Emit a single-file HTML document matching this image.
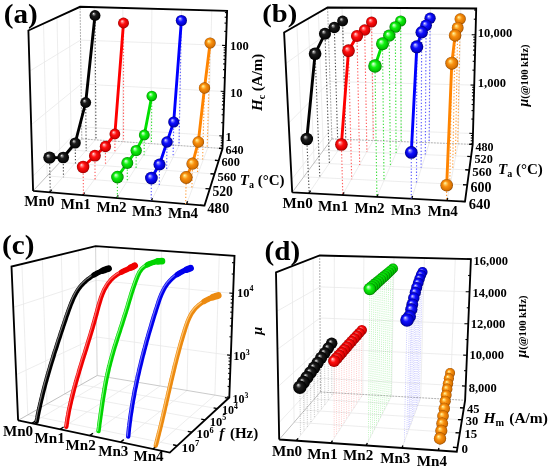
<!DOCTYPE html><html><head><meta charset="utf-8"><style>html,body{margin:0;padding:0;background:#fff;}svg{display:block}</style></head><body>
<svg width="550" height="469" viewBox="0 0 550 469">
<rect width="550" height="469" fill="#fff"/>
<defs><radialGradient id="gk" cx="0.5" cy="0.5" r="0.5" fx="0.36" fy="0.32"><stop offset="0" stop-color="#f4f4f4"/><stop offset="0.16" stop-color="#8a8a8a"/><stop offset="0.38" stop-color="#1e1e1e"/><stop offset="1" stop-color="#000000"/></radialGradient><radialGradient id="gr" cx="0.5" cy="0.5" r="0.5" fx="0.36" fy="0.32"><stop offset="0" stop-color="#fff0f0"/><stop offset="0.18" stop-color="#ff8080"/><stop offset="0.45" stop-color="#ff1010"/><stop offset="0.85" stop-color="#d40000"/><stop offset="1" stop-color="#8a0000"/></radialGradient><radialGradient id="gg" cx="0.5" cy="0.5" r="0.5" fx="0.36" fy="0.32"><stop offset="0" stop-color="#f0fff0"/><stop offset="0.18" stop-color="#90ff90"/><stop offset="0.45" stop-color="#10f010"/><stop offset="0.85" stop-color="#00c000"/><stop offset="1" stop-color="#006e00"/></radialGradient><radialGradient id="gb" cx="0.5" cy="0.5" r="0.5" fx="0.36" fy="0.32"><stop offset="0" stop-color="#f0f0ff"/><stop offset="0.18" stop-color="#8080ff"/><stop offset="0.45" stop-color="#1010ff"/><stop offset="0.85" stop-color="#0000c8"/><stop offset="1" stop-color="#000070"/></radialGradient><radialGradient id="go" cx="0.5" cy="0.5" r="0.5" fx="0.36" fy="0.32"><stop offset="0" stop-color="#fff6c0"/><stop offset="0.18" stop-color="#ffd060"/><stop offset="0.45" stop-color="#f99010"/><stop offset="0.85" stop-color="#d87200"/><stop offset="1" stop-color="#8a4400"/></radialGradient></defs>
<line x1="47.2" y1="175.9" x2="43.5" y2="23.6" stroke="#e8e8e8" stroke-width="0.8" />
<line x1="47.2" y1="175.9" x2="209.8" y2="188.9" stroke="#e8e8e8" stroke-width="0.8" />
<line x1="59.9" y1="162.3" x2="57.0" y2="17.4" stroke="#e8e8e8" stroke-width="0.8" />
<line x1="59.9" y1="162.3" x2="214.5" y2="174.0" stroke="#e8e8e8" stroke-width="0.8" />
<line x1="71.4" y1="150.0" x2="69.1" y2="11.8" stroke="#e8e8e8" stroke-width="0.8" />
<line x1="71.4" y1="150.0" x2="218.7" y2="160.6" stroke="#e8e8e8" stroke-width="0.8" />
<line x1="32.7" y1="176.5" x2="81.6" y2="126.9" stroke="#e8e8e8" stroke-width="0.8" />
<line x1="81.6" y1="126.9" x2="223.0" y2="136.1" stroke="#e8e8e8" stroke-width="0.8" />
<line x1="31.2" y1="124.8" x2="81.1" y2="84.1" stroke="#e8e8e8" stroke-width="0.8" />
<line x1="81.1" y1="84.1" x2="224.4" y2="91.5" stroke="#e8e8e8" stroke-width="0.8" />
<line x1="29.6" y1="71.2" x2="80.5" y2="40.1" stroke="#e8e8e8" stroke-width="0.8" />
<line x1="80.5" y1="40.1" x2="225.9" y2="45.5" stroke="#e8e8e8" stroke-width="0.8" />
<line x1="95.3" y1="139.8" x2="94.2" y2="7.2" stroke="#e8e8e8" stroke-width="0.8" />
<line x1="49.5" y1="192.3" x2="95.3" y2="139.8" stroke="#e8e8e8" stroke-width="0.8" />
<line x1="122.8" y1="141.7" x2="122.8" y2="8.0" stroke="#e8e8e8" stroke-width="0.8" />
<line x1="82.7" y1="195.2" x2="122.8" y2="141.7" stroke="#e8e8e8" stroke-width="0.8" />
<line x1="150.7" y1="143.6" x2="151.9" y2="8.8" stroke="#e8e8e8" stroke-width="0.8" />
<line x1="116.6" y1="198.1" x2="150.7" y2="143.6" stroke="#e8e8e8" stroke-width="0.8" />
<line x1="179.0" y1="145.5" x2="181.6" y2="9.6" stroke="#e8e8e8" stroke-width="0.8" />
<line x1="151.2" y1="201.0" x2="179.0" y2="145.5" stroke="#e8e8e8" stroke-width="0.8" />
<line x1="207.9" y1="147.5" x2="211.8" y2="10.4" stroke="#e8e8e8" stroke-width="0.8" />
<line x1="186.5" y1="204.1" x2="207.9" y2="147.5" stroke="#e8e8e8" stroke-width="0.8" />
<line x1="81.8" y1="138.9" x2="80.1" y2="6.8" stroke="#b0b0b0" stroke-width="1" stroke-dasharray="2 1"/>
<line x1="81.8" y1="138.9" x2="222.5" y2="148.5" stroke="#b0b0b0" stroke-width="1" stroke-dasharray="2 1"/>
<line x1="33.1" y1="190.9" x2="81.8" y2="138.9" stroke="#b0b0b0" stroke-width="0.8" />
<polyline points="33.1,190.9 28.4,30.5 80.1,6.8 227.1,10.8 222.5,148.5 204.5,205.6 33.1,190.9" fill="none" stroke="#000" stroke-width="1.85" stroke-linejoin="miter"/>
<line x1="222.6" y1="145.8" x2="220.6" y2="145.6" stroke="#000" stroke-width="1.1" />
<line x1="222.7" y1="142.9" x2="220.7" y2="142.7" stroke="#000" stroke-width="1.1" />
<line x1="222.8" y1="140.3" x2="220.8" y2="140.2" stroke="#000" stroke-width="1.1" />
<line x1="222.9" y1="138.1" x2="220.8" y2="137.9" stroke="#000" stroke-width="1.1" />
<line x1="223.0" y1="136.1" x2="219.3" y2="135.8" stroke="#000" stroke-width="1.1" />
<line x1="223.4" y1="122.8" x2="221.3" y2="122.6" stroke="#000" stroke-width="1.1" />
<line x1="223.6" y1="114.9" x2="221.6" y2="114.8" stroke="#000" stroke-width="1.1" />
<line x1="223.8" y1="109.4" x2="221.7" y2="109.2" stroke="#000" stroke-width="1.1" />
<line x1="224.0" y1="105.0" x2="221.9" y2="104.9" stroke="#000" stroke-width="1.1" />
<line x1="224.1" y1="101.5" x2="222.0" y2="101.3" stroke="#000" stroke-width="1.1" />
<line x1="224.2" y1="98.4" x2="222.1" y2="98.3" stroke="#000" stroke-width="1.1" />
<line x1="224.3" y1="95.8" x2="222.2" y2="95.7" stroke="#000" stroke-width="1.1" />
<line x1="224.4" y1="93.5" x2="222.3" y2="93.4" stroke="#000" stroke-width="1.1" />
<line x1="224.4" y1="91.5" x2="220.7" y2="91.3" stroke="#000" stroke-width="1.1" />
<line x1="224.9" y1="77.8" x2="222.8" y2="77.7" stroke="#000" stroke-width="1.1" />
<line x1="225.1" y1="69.7" x2="223.0" y2="69.6" stroke="#000" stroke-width="1.1" />
<line x1="225.3" y1="64.0" x2="223.2" y2="63.9" stroke="#000" stroke-width="1.1" />
<line x1="225.5" y1="59.5" x2="223.4" y2="59.4" stroke="#000" stroke-width="1.1" />
<line x1="225.6" y1="55.8" x2="223.5" y2="55.8" stroke="#000" stroke-width="1.1" />
<line x1="225.7" y1="52.7" x2="223.6" y2="52.7" stroke="#000" stroke-width="1.1" />
<line x1="225.8" y1="50.0" x2="223.7" y2="50.0" stroke="#000" stroke-width="1.1" />
<line x1="225.9" y1="47.7" x2="223.7" y2="47.6" stroke="#000" stroke-width="1.1" />
<line x1="225.9" y1="45.5" x2="222.1" y2="45.4" stroke="#000" stroke-width="1.1" />
<line x1="226.4" y1="31.4" x2="224.3" y2="31.4" stroke="#000" stroke-width="1.1" />
<line x1="226.7" y1="23.1" x2="224.5" y2="23.1" stroke="#000" stroke-width="1.1" />
<line x1="226.9" y1="17.2" x2="224.7" y2="17.2" stroke="#000" stroke-width="1.1" />
<line x1="227.0" y1="12.6" x2="224.9" y2="12.6" stroke="#000" stroke-width="1.1" />
<line x1="204.5" y1="205.6" x2="200.0" y2="205.2" stroke="#000" stroke-width="1.4" />
<line x1="209.8" y1="188.9" x2="205.5" y2="188.6" stroke="#000" stroke-width="1.4" />
<line x1="214.5" y1="174.0" x2="210.4" y2="173.7" stroke="#000" stroke-width="1.4" />
<line x1="218.7" y1="160.6" x2="214.9" y2="160.3" stroke="#000" stroke-width="1.4" />
<line x1="222.5" y1="148.5" x2="218.9" y2="148.2" stroke="#000" stroke-width="1.4" />
<line x1="49.5" y1="192.3" x2="51.7" y2="189.8" stroke="#000" stroke-width="1.4" />
<line x1="82.7" y1="195.2" x2="84.6" y2="192.6" stroke="#000" stroke-width="1.4" />
<line x1="116.6" y1="198.1" x2="118.2" y2="195.4" stroke="#000" stroke-width="1.4" />
<line x1="151.2" y1="201.0" x2="152.5" y2="198.3" stroke="#000" stroke-width="1.4" />
<line x1="186.5" y1="204.1" x2="187.6" y2="201.3" stroke="#000" stroke-width="1.4" />
<line x1="49.5" y1="157.6" x2="50.3" y2="192.4" stroke="#505050" stroke-width="1.15" stroke-dasharray="1.3 1.9"/>
<line x1="63.2" y1="157.5" x2="63.5" y2="177.2" stroke="#505050" stroke-width="1.15" stroke-dasharray="1.3 1.9"/>
<line x1="75.2" y1="143.0" x2="75.5" y2="163.5" stroke="#505050" stroke-width="1.15" stroke-dasharray="1.3 1.9"/>
<line x1="85.7" y1="102.5" x2="86.2" y2="151.1" stroke="#505050" stroke-width="1.15" stroke-dasharray="1.3 1.9"/>
<line x1="95.0" y1="15.5" x2="96.0" y2="139.9" stroke="#505050" stroke-width="1.15" stroke-dasharray="1.3 1.9"/>
<polyline points="49.5,157.6 63.2,157.5 75.2,143.0 85.7,102.5 95.0,15.5" fill="none" stroke="#000000" stroke-width="2.9" stroke-linejoin="round" stroke-linecap="round" />
<circle cx="95.0" cy="15.5" r="5.46" fill="url(#gk)"/>
<circle cx="85.7" cy="102.5" r="5.44" fill="url(#gk)"/>
<circle cx="75.2" cy="143.0" r="5.59" fill="url(#gk)"/>
<circle cx="63.2" cy="157.5" r="5.86" fill="url(#gk)"/>
<circle cx="49.5" cy="157.6" r="6.22" fill="url(#gk)"/>
<line x1="83.1" y1="167.0" x2="83.5" y2="195.3" stroke="#ff6060" stroke-width="1.15" stroke-dasharray="1.3 1.9"/>
<line x1="94.9" y1="155.7" x2="95.1" y2="179.7" stroke="#ff6060" stroke-width="1.15" stroke-dasharray="1.3 1.9"/>
<line x1="105.4" y1="146.5" x2="105.5" y2="165.8" stroke="#ff6060" stroke-width="1.15" stroke-dasharray="1.3 1.9"/>
<line x1="114.9" y1="134.0" x2="114.9" y2="153.2" stroke="#ff6060" stroke-width="1.15" stroke-dasharray="1.3 1.9"/>
<line x1="123.5" y1="23.0" x2="123.5" y2="141.7" stroke="#ff6060" stroke-width="1.15" stroke-dasharray="1.3 1.9"/>
<polyline points="83.1,167.0 94.9,155.7 105.4,146.5 114.9,134.0 123.5,23.0" fill="none" stroke="#ff0000" stroke-width="2.9" stroke-linejoin="round" stroke-linecap="round" />
<circle cx="123.5" cy="23.0" r="5.48" fill="url(#gr)"/>
<circle cx="114.9" cy="134.0" r="5.38" fill="url(#gr)"/>
<circle cx="105.4" cy="146.5" r="5.63" fill="url(#gr)"/>
<circle cx="94.9" cy="155.7" r="5.92" fill="url(#gr)"/>
<circle cx="83.1" cy="167.0" r="6.25" fill="url(#gr)"/>
<line x1="117.4" y1="177.1" x2="117.4" y2="198.2" stroke="#40e040" stroke-width="1.15" stroke-dasharray="1.3 1.9"/>
<line x1="127.3" y1="163.0" x2="127.3" y2="182.3" stroke="#40e040" stroke-width="1.15" stroke-dasharray="1.3 1.9"/>
<line x1="136.2" y1="150.6" x2="136.1" y2="168.1" stroke="#40e040" stroke-width="1.15" stroke-dasharray="1.3 1.9"/>
<line x1="144.3" y1="135.0" x2="144.1" y2="155.3" stroke="#40e040" stroke-width="1.15" stroke-dasharray="1.3 1.9"/>
<line x1="151.8" y1="96.0" x2="151.4" y2="143.6" stroke="#40e040" stroke-width="1.15" stroke-dasharray="1.3 1.9"/>
<polyline points="117.4,177.1 127.3,163.0 136.2,150.6 144.3,135.0 151.8,96.0" fill="none" stroke="#00e000" stroke-width="2.9" stroke-linejoin="round" stroke-linecap="round" />
<circle cx="151.8" cy="96.0" r="5.28" fill="url(#gg)"/>
<circle cx="144.3" cy="135.0" r="5.43" fill="url(#gg)"/>
<circle cx="136.2" cy="150.6" r="5.67" fill="url(#gg)"/>
<circle cx="127.3" cy="163.0" r="5.96" fill="url(#gg)"/>
<circle cx="117.4" cy="177.1" r="6.28" fill="url(#gg)"/>
<line x1="151.4" y1="178.1" x2="151.2" y2="201.0" stroke="#6060ff" stroke-width="1.15" stroke-dasharray="1.3 1.9"/>
<line x1="159.5" y1="164.5" x2="159.3" y2="184.9" stroke="#6060ff" stroke-width="1.15" stroke-dasharray="1.3 1.9"/>
<line x1="167.0" y1="142.0" x2="166.6" y2="170.4" stroke="#6060ff" stroke-width="1.15" stroke-dasharray="1.3 1.9"/>
<line x1="173.7" y1="122.0" x2="173.1" y2="157.3" stroke="#6060ff" stroke-width="1.15" stroke-dasharray="1.3 1.9"/>
<line x1="181.4" y1="20.5" x2="179.0" y2="145.5" stroke="#6060ff" stroke-width="1.15" stroke-dasharray="1.3 1.9"/>
<polyline points="151.4,178.1 159.5,164.5 167.0,142.0 173.7,122.0 181.4,20.5" fill="none" stroke="#0000ff" stroke-width="2.9" stroke-linejoin="round" stroke-linecap="round" />
<circle cx="181.4" cy="20.5" r="5.59" fill="url(#gb)"/>
<circle cx="173.7" cy="122.0" r="5.52" fill="url(#gb)"/>
<circle cx="167.0" cy="142.0" r="5.76" fill="url(#gb)"/>
<circle cx="159.5" cy="164.5" r="6.02" fill="url(#gb)"/>
<circle cx="151.4" cy="178.1" r="6.34" fill="url(#gb)"/>
<line x1="186.2" y1="177.5" x2="185.6" y2="204.0" stroke="#ffa040" stroke-width="1.15" stroke-dasharray="1.3 1.9"/>
<line x1="192.5" y1="163.7" x2="191.9" y2="187.5" stroke="#ffa040" stroke-width="1.15" stroke-dasharray="1.3 1.9"/>
<line x1="198.3" y1="142.0" x2="197.5" y2="172.8" stroke="#ffa040" stroke-width="1.15" stroke-dasharray="1.3 1.9"/>
<line x1="204.5" y1="88.0" x2="202.6" y2="159.5" stroke="#ffa040" stroke-width="1.15" stroke-dasharray="1.3 1.9"/>
<line x1="210.1" y1="43.0" x2="207.2" y2="147.4" stroke="#ffa040" stroke-width="1.15" stroke-dasharray="1.3 1.9"/>
<polyline points="186.2,177.5 192.5,163.7 198.3,142.0 204.5,88.0 210.1,43.0" fill="none" stroke="#ff8400" stroke-width="2.9" stroke-linejoin="round" stroke-linecap="round" />
<circle cx="210.1" cy="43.0" r="5.57" fill="url(#go)"/>
<circle cx="204.5" cy="88.0" r="5.70" fill="url(#go)"/>
<circle cx="198.3" cy="142.0" r="5.82" fill="url(#go)"/>
<circle cx="192.5" cy="163.7" r="6.09" fill="url(#go)"/>
<circle cx="186.2" cy="177.5" r="6.42" fill="url(#go)"/>
<g font-family="'Liberation Serif', serif" font-weight="bold">
<text transform="translate(3.7,23.3) scale(1.1,1)" font-size="26.5" text-anchor="start" >(a)</text>
<text transform="translate(39.4,206.3) scale(1.08,1)" font-size="14" text-anchor="middle" >Mn0</text>
<text transform="translate(75.8,208.8) scale(1.08,1)" font-size="14" text-anchor="middle" >Mn1</text>
<text transform="translate(111.5,211.8) scale(1.08,1)" font-size="14" text-anchor="middle" >Mn2</text>
<text transform="translate(147.0,216.3) scale(1.08,1)" font-size="14" text-anchor="middle" >Mn3</text>
<text transform="translate(183.0,217.8) scale(1.08,1)" font-size="14" text-anchor="middle" >Mn4</text>
<text transform="translate(225.6,141.4) scale(1.0,1)" font-size="12.5" text-anchor="start" >1</text>
<text transform="translate(230.1,96.8) scale(1.0,1)" font-size="12.5" text-anchor="start" >10</text>
<text transform="translate(230.1,50.2) scale(1.0,1)" font-size="12.5" text-anchor="start" >100</text>
<text transform="translate(225.4,154.4) scale(1.0,1)" font-size="12.2" text-anchor="start" >640</text>
<text transform="translate(221.4,166.4) scale(1.0,1)" font-size="12.3" text-anchor="start" >600</text>
<text transform="translate(217.4,180.5) scale(1.0,1)" font-size="12.6" text-anchor="start" >560</text>
<text transform="translate(212.4,195.7) scale(1.0,1)" font-size="13.7" text-anchor="start" >520</text>
<text transform="translate(207.3,212.7) scale(1.0,1)" font-size="14.6" text-anchor="start" >480</text>
<text transform="translate(239.8,184.5) scale(1.0,1)" font-size="15" text-anchor="start" ><tspan font-style="italic">T</tspan><tspan font-size="10" dy="3">a</tspan><tspan dy="-3"> (°C)</tspan></text>
<text transform="translate(262.3,111.0) rotate(-90) scale(1.0,1)" font-size="15" text-anchor="start" ><tspan font-style="italic">H</tspan><tspan font-size="10" dy="3">c</tspan><tspan dy="-3"> (A/m)</tspan></text>
</g>
<line x1="303.7" y1="176.8" x2="296.9" y2="25.1" stroke="#e8e8e8" stroke-width="0.8" />
<line x1="303.7" y1="176.8" x2="467.2" y2="184.9" stroke="#e8e8e8" stroke-width="0.8" />
<line x1="314.1" y1="162.9" x2="308.2" y2="18.6" stroke="#e8e8e8" stroke-width="0.8" />
<line x1="314.1" y1="162.9" x2="469.3" y2="170.0" stroke="#e8e8e8" stroke-width="0.8" />
<line x1="323.4" y1="150.3" x2="318.4" y2="12.7" stroke="#e8e8e8" stroke-width="0.8" />
<line x1="323.4" y1="150.3" x2="471.1" y2="156.6" stroke="#e8e8e8" stroke-width="0.8" />
<line x1="291.5" y1="179.6" x2="331.6" y2="128.3" stroke="#e8e8e8" stroke-width="0.8" />
<line x1="331.6" y1="128.3" x2="473.0" y2="133.5" stroke="#e8e8e8" stroke-width="0.8" />
<line x1="288.7" y1="123.0" x2="330.0" y2="81.5" stroke="#e8e8e8" stroke-width="0.8" />
<line x1="330.0" y1="81.5" x2="474.2" y2="85.1" stroke="#e8e8e8" stroke-width="0.8" />
<line x1="285.7" y1="63.6" x2="328.4" y2="32.9" stroke="#e8e8e8" stroke-width="0.8" />
<line x1="328.4" y1="32.9" x2="475.5" y2="34.8" stroke="#e8e8e8" stroke-width="0.8" />
<line x1="345.6" y1="139.4" x2="342.0" y2="7.6" stroke="#e8e8e8" stroke-width="0.8" />
<line x1="308.8" y1="193.3" x2="345.6" y2="139.4" stroke="#e8e8e8" stroke-width="0.8" />
<line x1="373.1" y1="140.5" x2="371.1" y2="7.8" stroke="#e8e8e8" stroke-width="0.8" />
<line x1="342.5" y1="195.1" x2="373.1" y2="140.5" stroke="#e8e8e8" stroke-width="0.8" />
<line x1="401.1" y1="141.6" x2="400.5" y2="8.0" stroke="#e8e8e8" stroke-width="0.8" />
<line x1="376.8" y1="196.9" x2="401.1" y2="141.6" stroke="#e8e8e8" stroke-width="0.8" />
<line x1="429.4" y1="142.7" x2="430.5" y2="8.2" stroke="#e8e8e8" stroke-width="0.8" />
<line x1="411.6" y1="198.8" x2="429.4" y2="142.7" stroke="#e8e8e8" stroke-width="0.8" />
<line x1="458.2" y1="143.9" x2="460.8" y2="8.4" stroke="#e8e8e8" stroke-width="0.8" />
<line x1="447.0" y1="200.6" x2="458.2" y2="143.9" stroke="#e8e8e8" stroke-width="0.8" />
<line x1="331.9" y1="138.9" x2="327.6" y2="7.5" stroke="#b0b0b0" stroke-width="1" stroke-dasharray="2 1"/>
<line x1="331.9" y1="138.9" x2="472.7" y2="144.4" stroke="#b0b0b0" stroke-width="1" stroke-dasharray="2 1"/>
<line x1="292.2" y1="192.4" x2="331.9" y2="138.9" stroke="#b0b0b0" stroke-width="0.8" />
<polyline points="292.2,192.4 284.1,32.4 327.6,7.5 476.2,8.5 472.7,144.4 465.0,201.6 292.2,192.4" fill="none" stroke="#000" stroke-width="1.85" stroke-linejoin="miter"/>
<line x1="472.7" y1="143.9" x2="470.7" y2="143.8" stroke="#000" stroke-width="1.1" />
<line x1="472.8" y1="140.8" x2="470.7" y2="140.7" stroke="#000" stroke-width="1.1" />
<line x1="472.9" y1="138.0" x2="470.8" y2="138.0" stroke="#000" stroke-width="1.1" />
<line x1="472.9" y1="135.6" x2="470.9" y2="135.5" stroke="#000" stroke-width="1.1" />
<line x1="473.0" y1="133.5" x2="469.3" y2="133.3" stroke="#000" stroke-width="1.1" />
<line x1="473.3" y1="119.1" x2="471.3" y2="119.0" stroke="#000" stroke-width="1.1" />
<line x1="473.6" y1="110.6" x2="471.5" y2="110.6" stroke="#000" stroke-width="1.1" />
<line x1="473.7" y1="104.6" x2="471.6" y2="104.5" stroke="#000" stroke-width="1.1" />
<line x1="473.8" y1="99.9" x2="471.8" y2="99.8" stroke="#000" stroke-width="1.1" />
<line x1="473.9" y1="96.0" x2="471.9" y2="95.9" stroke="#000" stroke-width="1.1" />
<line x1="474.0" y1="92.7" x2="471.9" y2="92.7" stroke="#000" stroke-width="1.1" />
<line x1="474.1" y1="89.9" x2="472.0" y2="89.8" stroke="#000" stroke-width="1.1" />
<line x1="474.2" y1="87.4" x2="472.1" y2="87.3" stroke="#000" stroke-width="1.1" />
<line x1="474.2" y1="85.1" x2="470.5" y2="85.0" stroke="#000" stroke-width="1.1" />
<line x1="474.6" y1="70.2" x2="472.5" y2="70.1" stroke="#000" stroke-width="1.1" />
<line x1="474.8" y1="61.3" x2="472.7" y2="61.3" stroke="#000" stroke-width="1.1" />
<line x1="475.0" y1="55.1" x2="472.9" y2="55.0" stroke="#000" stroke-width="1.1" />
<line x1="475.1" y1="50.1" x2="473.0" y2="50.1" stroke="#000" stroke-width="1.1" />
<line x1="475.2" y1="46.1" x2="473.1" y2="46.1" stroke="#000" stroke-width="1.1" />
<line x1="475.3" y1="42.7" x2="473.2" y2="42.7" stroke="#000" stroke-width="1.1" />
<line x1="475.4" y1="39.8" x2="473.3" y2="39.7" stroke="#000" stroke-width="1.1" />
<line x1="475.4" y1="37.1" x2="473.3" y2="37.1" stroke="#000" stroke-width="1.1" />
<line x1="475.5" y1="34.8" x2="471.7" y2="34.7" stroke="#000" stroke-width="1.1" />
<line x1="475.9" y1="19.2" x2="473.8" y2="19.2" stroke="#000" stroke-width="1.1" />
<line x1="476.1" y1="10.0" x2="474.0" y2="10.0" stroke="#000" stroke-width="1.1" />
<line x1="465.0" y1="201.6" x2="460.5" y2="201.4" stroke="#000" stroke-width="1.4" />
<line x1="467.2" y1="184.9" x2="463.0" y2="184.7" stroke="#000" stroke-width="1.4" />
<line x1="469.3" y1="170.0" x2="465.2" y2="169.8" stroke="#000" stroke-width="1.4" />
<line x1="471.1" y1="156.6" x2="467.2" y2="156.4" stroke="#000" stroke-width="1.4" />
<line x1="472.7" y1="144.4" x2="469.1" y2="144.3" stroke="#000" stroke-width="1.4" />
<line x1="308.8" y1="193.3" x2="310.6" y2="190.7" stroke="#000" stroke-width="1.4" />
<line x1="342.5" y1="195.1" x2="344.0" y2="192.4" stroke="#000" stroke-width="1.4" />
<line x1="376.8" y1="196.9" x2="378.0" y2="194.2" stroke="#000" stroke-width="1.4" />
<line x1="411.6" y1="198.8" x2="412.5" y2="196.0" stroke="#000" stroke-width="1.4" />
<line x1="447.0" y1="200.6" x2="447.6" y2="197.9" stroke="#000" stroke-width="1.4" />
<line x1="306.8" y1="139.0" x2="309.2" y2="193.3" stroke="#505050" stroke-width="1.15" stroke-dasharray="1.3 1.9"/>
<line x1="315.1" y1="53.7" x2="319.8" y2="177.6" stroke="#505050" stroke-width="1.15" stroke-dasharray="1.3 1.9"/>
<line x1="325.0" y1="33.7" x2="329.4" y2="163.6" stroke="#505050" stroke-width="1.15" stroke-dasharray="1.3 1.9"/>
<line x1="334.3" y1="27.5" x2="338.0" y2="150.9" stroke="#505050" stroke-width="1.15" stroke-dasharray="1.3 1.9"/>
<line x1="342.6" y1="21.0" x2="345.8" y2="139.4" stroke="#505050" stroke-width="1.15" stroke-dasharray="1.3 1.9"/>
<polyline points="306.8,139.0 315.1,53.7 325.0,33.7 334.3,27.5 342.6,21.0" fill="none" stroke="#000000" stroke-width="2.9" stroke-linejoin="round" stroke-linecap="round" />
<circle cx="342.6" cy="21.0" r="5.48" fill="url(#gk)"/>
<circle cx="334.3" cy="27.5" r="5.75" fill="url(#gk)"/>
<circle cx="325.0" cy="33.7" r="6.05" fill="url(#gk)"/>
<circle cx="315.1" cy="53.7" r="6.32" fill="url(#gk)"/>
<circle cx="306.8" cy="139.0" r="6.27" fill="url(#gk)"/>
<line x1="341.4" y1="144.5" x2="342.8" y2="195.1" stroke="#ff6060" stroke-width="1.15" stroke-dasharray="1.3 1.9"/>
<line x1="348.5" y1="50.7" x2="351.7" y2="179.2" stroke="#ff6060" stroke-width="1.15" stroke-dasharray="1.3 1.9"/>
<line x1="357.0" y1="36.0" x2="359.7" y2="165.0" stroke="#ff6060" stroke-width="1.15" stroke-dasharray="1.3 1.9"/>
<line x1="364.7" y1="30.0" x2="366.9" y2="152.1" stroke="#ff6060" stroke-width="1.15" stroke-dasharray="1.3 1.9"/>
<line x1="371.6" y1="22.0" x2="373.4" y2="140.5" stroke="#ff6060" stroke-width="1.15" stroke-dasharray="1.3 1.9"/>
<polyline points="341.4,144.5 348.5,50.7 357.0,36.0 364.7,30.0 371.6,22.0" fill="none" stroke="#ff0000" stroke-width="2.9" stroke-linejoin="round" stroke-linecap="round" />
<circle cx="371.6" cy="22.0" r="5.51" fill="url(#gr)"/>
<circle cx="364.7" cy="30.0" r="5.78" fill="url(#gr)"/>
<circle cx="357.0" cy="36.0" r="6.08" fill="url(#gr)"/>
<circle cx="348.5" cy="50.7" r="6.38" fill="url(#gr)"/>
<circle cx="341.4" cy="144.5" r="6.30" fill="url(#gr)"/>
<line x1="375.0" y1="66.0" x2="376.9" y2="196.9" stroke="#40e040" stroke-width="1.15" stroke-dasharray="1.3 1.9"/>
<line x1="382.5" y1="43.7" x2="384.0" y2="180.8" stroke="#40e040" stroke-width="1.15" stroke-dasharray="1.3 1.9"/>
<line x1="389.2" y1="35.7" x2="390.4" y2="166.4" stroke="#40e040" stroke-width="1.15" stroke-dasharray="1.3 1.9"/>
<line x1="395.3" y1="27.0" x2="396.1" y2="153.4" stroke="#40e040" stroke-width="1.15" stroke-dasharray="1.3 1.9"/>
<line x1="400.7" y1="21.0" x2="401.2" y2="141.6" stroke="#40e040" stroke-width="1.15" stroke-dasharray="1.3 1.9"/>
<polyline points="375.0,66.0 382.5,43.7 389.2,35.7 395.3,27.0 400.7,21.0" fill="none" stroke="#00e000" stroke-width="2.9" stroke-linejoin="round" stroke-linecap="round" />
<circle cx="400.7" cy="21.0" r="5.56" fill="url(#gg)"/>
<circle cx="395.3" cy="27.0" r="5.84" fill="url(#gg)"/>
<circle cx="389.2" cy="35.7" r="6.13" fill="url(#gg)"/>
<circle cx="382.5" cy="43.7" r="6.47" fill="url(#gg)"/>
<circle cx="375.0" cy="66.0" r="6.78" fill="url(#gg)"/>
<line x1="411.3" y1="152.4" x2="411.3" y2="198.7" stroke="#6060ff" stroke-width="1.15" stroke-dasharray="1.3 1.9"/>
<line x1="416.8" y1="46.8" x2="416.5" y2="182.4" stroke="#6060ff" stroke-width="1.15" stroke-dasharray="1.3 1.9"/>
<line x1="421.7" y1="32.3" x2="421.1" y2="167.8" stroke="#6060ff" stroke-width="1.15" stroke-dasharray="1.3 1.9"/>
<line x1="426.1" y1="25.3" x2="425.3" y2="154.6" stroke="#6060ff" stroke-width="1.15" stroke-dasharray="1.3 1.9"/>
<line x1="430.1" y1="18.2" x2="429.1" y2="142.7" stroke="#6060ff" stroke-width="1.15" stroke-dasharray="1.3 1.9"/>
<polyline points="411.3,152.4 416.8,46.8 421.7,32.3 426.1,25.3 430.1,18.2" fill="none" stroke="#0000ff" stroke-width="2.9" stroke-linejoin="round" stroke-linecap="round" />
<circle cx="430.1" cy="18.2" r="5.61" fill="url(#gb)"/>
<circle cx="426.1" cy="25.3" r="5.89" fill="url(#gb)"/>
<circle cx="421.7" cy="32.3" r="6.20" fill="url(#gb)"/>
<circle cx="416.8" cy="46.8" r="6.51" fill="url(#gb)"/>
<circle cx="411.3" cy="152.4" r="6.37" fill="url(#gb)"/>
<line x1="446.7" y1="185.2" x2="446.5" y2="200.6" stroke="#ffa040" stroke-width="1.15" stroke-dasharray="1.3 1.9"/>
<line x1="451.8" y1="63.2" x2="449.8" y2="184.0" stroke="#ffa040" stroke-width="1.15" stroke-dasharray="1.3 1.9"/>
<line x1="455.1" y1="35.4" x2="452.7" y2="169.2" stroke="#ffa040" stroke-width="1.15" stroke-dasharray="1.3 1.9"/>
<line x1="457.7" y1="27.8" x2="455.4" y2="155.9" stroke="#ffa040" stroke-width="1.15" stroke-dasharray="1.3 1.9"/>
<line x1="460.2" y1="19.0" x2="457.7" y2="143.9" stroke="#ffa040" stroke-width="1.15" stroke-dasharray="1.3 1.9"/>
<polyline points="446.7,185.2 451.8,63.2 455.1,35.4 457.7,27.8 460.2,19.0" fill="none" stroke="#ff8400" stroke-width="2.9" stroke-linejoin="round" stroke-linecap="round" />
<circle cx="460.2" cy="19.0" r="5.65" fill="url(#go)"/>
<circle cx="457.7" cy="27.8" r="5.92" fill="url(#go)"/>
<circle cx="455.1" cy="35.4" r="6.24" fill="url(#go)"/>
<circle cx="451.8" cy="63.2" r="6.48" fill="url(#go)"/>
<circle cx="446.7" cy="185.2" r="6.26" fill="url(#go)"/>
<g font-family="'Liberation Serif', serif" font-weight="bold">
<text transform="translate(262.3,22.0) scale(1.1,1)" font-size="26" text-anchor="start" >(b)</text>
<text transform="translate(297.7,207.8) scale(1.08,1)" font-size="14" text-anchor="middle" >Mn0</text>
<text transform="translate(333.1,210.5) scale(1.08,1)" font-size="14" text-anchor="middle" >Mn1</text>
<text transform="translate(369.5,212.8) scale(1.08,1)" font-size="14" text-anchor="middle" >Mn2</text>
<text transform="translate(406.0,214.8) scale(1.08,1)" font-size="14" text-anchor="middle" >Mn3</text>
<text transform="translate(442.8,215.8) scale(1.08,1)" font-size="14" text-anchor="middle" >Mn4</text>
<text transform="translate(477.8,37.1) scale(1.0,1)" font-size="12.5" text-anchor="start" >10,000</text>
<text transform="translate(477.8,87.2) scale(1.0,1)" font-size="12.5" text-anchor="start" >1,000</text>
<text transform="translate(475.4,150.9) scale(1.0,1)" font-size="12" text-anchor="start" >480</text>
<text transform="translate(474.5,162.8) scale(1.0,1)" font-size="12.2" text-anchor="start" >520</text>
<text transform="translate(472.3,176.4) scale(1.0,1)" font-size="13" text-anchor="start" >560</text>
<text transform="translate(470.6,192.3) scale(1.0,1)" font-size="14" text-anchor="start" >600</text>
<text transform="translate(468.7,209.3) scale(1.0,1)" font-size="14.6" text-anchor="start" >640</text>
<text transform="translate(498.0,173.8) scale(1.0,1)" font-size="15" text-anchor="start" ><tspan font-style="italic">T</tspan><tspan font-size="10" dy="3">a</tspan><tspan dy="-3"> (°C)</tspan></text>
<text transform="translate(527.6,106.6) rotate(-90) scale(1.0,1)" font-size="11" text-anchor="start" ><tspan font-style="italic" font-size="14">μ</tspan><tspan font-size="10.6">(@100 kHz)</tspan></text>
</g>
<line x1="81.1" y1="384.7" x2="78.6" y2="250.3" stroke="#e8e8e8" stroke-width="0.8" />
<line x1="81.1" y1="384.7" x2="217.3" y2="408.6" stroke="#e8e8e8" stroke-width="0.8" />
<line x1="64.7" y1="394.0" x2="61.3" y2="254.5" stroke="#e8e8e8" stroke-width="0.8" />
<line x1="64.7" y1="394.0" x2="205.1" y2="419.9" stroke="#e8e8e8" stroke-width="0.8" />
<line x1="47.0" y1="404.0" x2="42.4" y2="259.0" stroke="#e8e8e8" stroke-width="0.8" />
<line x1="47.0" y1="404.0" x2="191.8" y2="432.2" stroke="#e8e8e8" stroke-width="0.8" />
<line x1="27.8" y1="414.8" x2="21.9" y2="264.0" stroke="#e8e8e8" stroke-width="0.8" />
<line x1="27.8" y1="414.8" x2="177.2" y2="445.7" stroke="#e8e8e8" stroke-width="0.8" />
<line x1="16.1" y1="374.8" x2="96.8" y2="337.0" stroke="#e8e8e8" stroke-width="0.8" />
<line x1="96.8" y1="337.0" x2="230.8" y2="355.4" stroke="#e8e8e8" stroke-width="0.8" />
<line x1="13.2" y1="307.4" x2="96.0" y2="280.3" stroke="#e8e8e8" stroke-width="0.8" />
<line x1="96.0" y1="280.3" x2="233.1" y2="293.4" stroke="#e8e8e8" stroke-width="0.8" />
<line x1="109.4" y1="377.6" x2="108.3" y2="247.0" stroke="#e8e8e8" stroke-width="0.8" />
<line x1="31.7" y1="423.3" x2="109.4" y2="377.6" stroke="#e8e8e8" stroke-width="0.8" />
<line x1="134.3" y1="381.7" x2="134.4" y2="248.9" stroke="#e8e8e8" stroke-width="0.8" />
<line x1="60.0" y1="429.3" x2="134.3" y2="381.7" stroke="#e8e8e8" stroke-width="0.8" />
<line x1="160.1" y1="386.0" x2="161.6" y2="250.8" stroke="#e8e8e8" stroke-width="0.8" />
<line x1="89.6" y1="435.6" x2="160.1" y2="386.0" stroke="#e8e8e8" stroke-width="0.8" />
<line x1="187.0" y1="390.5" x2="189.9" y2="252.7" stroke="#e8e8e8" stroke-width="0.8" />
<line x1="120.6" y1="442.1" x2="187.0" y2="390.5" stroke="#e8e8e8" stroke-width="0.8" />
<line x1="214.9" y1="395.1" x2="219.3" y2="254.8" stroke="#e8e8e8" stroke-width="0.8" />
<line x1="153.0" y1="449.0" x2="214.9" y2="395.1" stroke="#e8e8e8" stroke-width="0.8" />
<line x1="97.2" y1="375.5" x2="95.6" y2="246.2" stroke="#cfcfcf" stroke-width="0.9" />
<line x1="97.2" y1="375.5" x2="229.3" y2="397.5" stroke="#c4c4c4" stroke-width="0.9" />
<line x1="18.1" y1="420.4" x2="97.2" y2="375.5" stroke="#b0b0b0" stroke-width="0.8" />
<polyline points="18.1,420.4 11.5,266.5 95.6,246.2 234.5,255.8 229.3,397.5 169.8,452.6 18.1,420.4" fill="none" stroke="#000" stroke-width="1.85" stroke-linejoin="miter"/>
<line x1="229.3" y1="397.2" x2="227.2" y2="396.8" stroke="#000" stroke-width="1.1" />
<line x1="229.7" y1="386.8" x2="227.6" y2="386.4" stroke="#000" stroke-width="1.1" />
<line x1="229.9" y1="379.3" x2="227.9" y2="379.0" stroke="#000" stroke-width="1.1" />
<line x1="230.1" y1="373.5" x2="228.1" y2="373.2" stroke="#000" stroke-width="1.1" />
<line x1="230.3" y1="368.8" x2="228.3" y2="368.5" stroke="#000" stroke-width="1.1" />
<line x1="230.5" y1="364.8" x2="228.4" y2="364.5" stroke="#000" stroke-width="1.1" />
<line x1="230.6" y1="361.3" x2="228.5" y2="361.0" stroke="#000" stroke-width="1.1" />
<line x1="230.7" y1="358.2" x2="228.6" y2="357.9" stroke="#000" stroke-width="1.1" />
<line x1="230.8" y1="355.4" x2="227.1" y2="354.9" stroke="#000" stroke-width="1.1" />
<line x1="231.5" y1="337.0" x2="229.4" y2="336.8" stroke="#000" stroke-width="1.1" />
<line x1="231.9" y1="326.2" x2="229.8" y2="325.9" stroke="#000" stroke-width="1.1" />
<line x1="232.2" y1="318.4" x2="230.1" y2="318.2" stroke="#000" stroke-width="1.1" />
<line x1="232.4" y1="312.3" x2="230.3" y2="312.1" stroke="#000" stroke-width="1.1" />
<line x1="232.6" y1="307.4" x2="230.5" y2="307.2" stroke="#000" stroke-width="1.1" />
<line x1="232.7" y1="303.2" x2="230.6" y2="302.9" stroke="#000" stroke-width="1.1" />
<line x1="232.9" y1="299.5" x2="230.8" y2="299.3" stroke="#000" stroke-width="1.1" />
<line x1="233.0" y1="296.3" x2="230.9" y2="296.1" stroke="#000" stroke-width="1.1" />
<line x1="233.1" y1="293.4" x2="229.3" y2="293.0" stroke="#000" stroke-width="1.1" />
<line x1="233.8" y1="274.1" x2="231.7" y2="274.0" stroke="#000" stroke-width="1.1" />
<line x1="234.2" y1="262.8" x2="232.1" y2="262.6" stroke="#000" stroke-width="1.1" />
<line x1="228.5" y1="398.2" x2="224.9" y2="397.6" stroke="#000" stroke-width="1.4" />
<line x1="217.3" y1="408.6" x2="213.6" y2="407.9" stroke="#000" stroke-width="1.4" />
<line x1="205.1" y1="419.9" x2="201.2" y2="419.1" stroke="#000" stroke-width="1.4" />
<line x1="191.8" y1="432.2" x2="187.8" y2="431.4" stroke="#000" stroke-width="1.4" />
<line x1="177.2" y1="445.7" x2="173.1" y2="444.8" stroke="#000" stroke-width="1.4" />
<line x1="31.7" y1="423.3" x2="35.4" y2="421.1" stroke="#000" stroke-width="1.4" />
<line x1="60.0" y1="429.3" x2="63.6" y2="427.0" stroke="#000" stroke-width="1.4" />
<line x1="89.6" y1="435.6" x2="93.0" y2="433.2" stroke="#000" stroke-width="1.4" />
<line x1="120.6" y1="442.1" x2="123.8" y2="439.6" stroke="#000" stroke-width="1.4" />
<line x1="153.0" y1="449.0" x2="156.0" y2="446.4" stroke="#000" stroke-width="1.4" />
<path d="M108.6,268.6 L106.7,269.2 L104.9,269.8 L103.1,270.5 L101.2,271.2 L99.4,272.1 L97.6,272.9 L95.9,273.9 L94.1,274.9 L92.4,276.0 L90.7,277.2 L89.1,278.4 L87.5,279.6 L86.0,280.9 L84.5,282.3 L83.1,283.7 L81.7,285.1 L80.4,286.6 L79.2,288.2 L78.1,289.7 L77.1,291.3 L76.1,293.0 L75.2,294.7 L74.3,296.4 L73.5,298.1 L72.7,299.9 L72.0,301.7 L71.2,303.5 L70.5,305.3 L69.8,307.2 L69.1,309.0 L68.4,310.9 L67.8,312.8 L67.1,314.7 L66.4,316.6 L65.8,318.5 L65.2,320.4 L64.5,322.3 L63.9,324.2 L63.2,326.1 L62.6,328.0 L62.0,329.9 L61.3,331.8 L60.7,333.7 L60.1,335.6 L59.5,337.5 L58.8,339.4 L58.2,341.3 L57.6,343.2 L57.0,345.1 L56.4,347.0 L55.8,348.9 L55.1,350.8 L54.5,352.7 L53.9,354.6 L53.4,356.5 L52.8,358.4 L52.2,360.3 L51.6,362.2 L51.0,364.1 L50.4,366.0 L49.9,367.9 L49.3,369.8 L48.8,371.7 L48.2,373.6 L47.7,375.5 L47.1,377.4 L46.6,379.3 L46.1,381.2 L45.5,383.1 L45.0,385.0 L44.5,386.9 L44.0,388.9 L43.5,390.8 L43.0,392.7 L42.5,394.6 L42.1,396.5 L41.6,398.5 L41.1,400.4 L40.7,402.3 L40.2,404.3 L39.8,406.2 L39.4,408.1 L38.9,410.1 L38.5,412.0 L38.1,414.0 L37.7,415.9 L37.4,417.9 L37.0,419.8 L36.6,421.8" fill="none" stroke="#000000" stroke-width="4.4" stroke-linecap="round" stroke-linejoin="round"/>
<path d="M108.6,268.6 L106.7,269.2 L104.9,269.8 L103.1,270.5 L101.2,271.2 L99.4,272.1 L97.6,272.9 L95.9,273.9 L94.1,274.9 L92.4,276.0 L90.7,277.2 L89.1,278.4 L87.5,279.6 L86.0,280.9 L84.5,282.3 L83.1,283.7 L81.7,285.1 L80.4,286.6 L79.2,288.2 L78.1,289.7 L77.1,291.3 L76.1,293.0 L75.2,294.7 L74.3,296.4 L73.5,298.1 L72.7,299.9 L72.0,301.7 L71.2,303.5 L70.5,305.3 L69.8,307.2 L69.1,309.0 L68.4,310.9 L67.8,312.8 L67.1,314.7 L66.4,316.6 L65.8,318.5 L65.2,320.4 L64.5,322.3 L63.9,324.2 L63.2,326.1 L62.6,328.0 L62.0,329.9 L61.3,331.8 L60.7,333.7 L60.1,335.6 L59.5,337.5 L58.8,339.4 L58.2,341.3 L57.6,343.2 L57.0,345.1 L56.4,347.0 L55.8,348.9 L55.1,350.8 L54.5,352.7 L53.9,354.6 L53.4,356.5 L52.8,358.4 L52.2,360.3 L51.6,362.2 L51.0,364.1 L50.4,366.0 L49.9,367.9 L49.3,369.8 L48.8,371.7 L48.2,373.6 L47.7,375.5 L47.1,377.4 L46.6,379.3 L46.1,381.2 L45.5,383.1 L45.0,385.0 L44.5,386.9 L44.0,388.9 L43.5,390.8 L43.0,392.7 L42.5,394.6 L42.1,396.5 L41.6,398.5 L41.1,400.4 L40.7,402.3 L40.2,404.3 L39.8,406.2 L39.4,408.1 L38.9,410.1 L38.5,412.0 L38.1,414.0 L37.7,415.9 L37.4,417.9 L37.0,419.8 L36.6,421.8" transform="translate(-0.9,-0.5)" fill="none" stroke="#858585" stroke-width="1.2" stroke-linecap="round" opacity="0.9"/>
<path d="M108.6,268.6 L106.7,269.2 L104.9,269.8 L103.1,270.5 L101.2,271.2 L99.4,272.1 L97.6,272.9 L95.9,273.9 L94.1,274.9" fill="none" stroke="#000000" stroke-width="5.4" stroke-linecap="round" stroke-linejoin="round"/>
<path d="M108.6,268.6 L106.7,269.2 L104.9,269.8 L103.1,270.5" fill="none" stroke="#000000" stroke-width="6.6" stroke-linecap="round" stroke-linejoin="round"/>
<path d="M134.7,265.7 L132.9,266.7 L131.0,267.6 L129.1,268.5 L127.2,269.4 L125.3,270.2 L123.4,271.1 L121.6,272.1 L119.8,273.1 L118.1,274.1 L116.4,275.2 L114.8,276.4 L113.3,277.7 L111.8,279.1 L110.4,280.6 L109.2,282.1 L107.9,283.7 L106.8,285.4 L105.8,287.1 L104.8,288.8 L103.9,290.6 L103.1,292.5 L102.3,294.3 L101.6,296.2 L100.9,298.1 L100.3,300.1 L99.7,302.0 L99.1,304.0 L98.5,306.0 L98.0,308.0 L97.4,310.0 L96.9,312.0 L96.4,314.0 L95.8,316.0 L95.3,318.0 L94.7,320.0 L94.2,322.0 L93.6,324.0 L93.0,326.0 L92.5,327.9 L91.9,329.9 L91.3,331.9 L90.7,333.8 L90.1,335.8 L89.5,337.8 L88.9,339.7 L88.3,341.7 L87.7,343.6 L87.1,345.6 L86.5,347.5 L85.9,349.5 L85.3,351.4 L84.7,353.4 L84.0,355.3 L83.4,357.3 L82.8,359.2 L82.2,361.2 L81.6,363.1 L81.0,365.1 L80.4,367.0 L79.8,369.0 L79.2,370.9 L78.7,372.9 L78.1,374.8 L77.5,376.8 L76.9,378.7 L76.4,380.7 L75.8,382.6 L75.3,384.6 L74.7,386.6 L74.2,388.5 L73.7,390.5 L73.2,392.5 L72.7,394.4 L72.2,396.4 L71.7,398.4 L71.2,400.4 L70.8,402.4 L70.3,404.4 L69.9,406.4 L69.4,408.4 L69.0,410.4 L68.6,412.4 L68.3,414.4 L67.9,416.4 L67.5,418.5 L67.2,420.5 L66.9,422.6 L66.6,424.6 L66.3,426.7" fill="none" stroke="#f00000" stroke-width="4.4" stroke-linecap="round" stroke-linejoin="round"/>
<path d="M134.7,265.7 L132.9,266.7 L131.0,267.6 L129.1,268.5 L127.2,269.4 L125.3,270.2 L123.4,271.1 L121.6,272.1 L119.8,273.1 L118.1,274.1 L116.4,275.2 L114.8,276.4 L113.3,277.7 L111.8,279.1 L110.4,280.6 L109.2,282.1 L107.9,283.7 L106.8,285.4 L105.8,287.1 L104.8,288.8 L103.9,290.6 L103.1,292.5 L102.3,294.3 L101.6,296.2 L100.9,298.1 L100.3,300.1 L99.7,302.0 L99.1,304.0 L98.5,306.0 L98.0,308.0 L97.4,310.0 L96.9,312.0 L96.4,314.0 L95.8,316.0 L95.3,318.0 L94.7,320.0 L94.2,322.0 L93.6,324.0 L93.0,326.0 L92.5,327.9 L91.9,329.9 L91.3,331.9 L90.7,333.8 L90.1,335.8 L89.5,337.8 L88.9,339.7 L88.3,341.7 L87.7,343.6 L87.1,345.6 L86.5,347.5 L85.9,349.5 L85.3,351.4 L84.7,353.4 L84.0,355.3 L83.4,357.3 L82.8,359.2 L82.2,361.2 L81.6,363.1 L81.0,365.1 L80.4,367.0 L79.8,369.0 L79.2,370.9 L78.7,372.9 L78.1,374.8 L77.5,376.8 L76.9,378.7 L76.4,380.7 L75.8,382.6 L75.3,384.6 L74.7,386.6 L74.2,388.5 L73.7,390.5 L73.2,392.5 L72.7,394.4 L72.2,396.4 L71.7,398.4 L71.2,400.4 L70.8,402.4 L70.3,404.4 L69.9,406.4 L69.4,408.4 L69.0,410.4 L68.6,412.4 L68.3,414.4 L67.9,416.4 L67.5,418.5 L67.2,420.5 L66.9,422.6 L66.6,424.6 L66.3,426.7" transform="translate(-0.9,-0.5)" fill="none" stroke="#ff7a7a" stroke-width="1.2" stroke-linecap="round" opacity="0.9"/>
<path d="M134.7,265.7 L132.9,266.7 L131.0,267.6 L129.1,268.5 L127.2,269.4 L125.3,270.2 L123.4,271.1 L121.6,272.1" fill="none" stroke="#f00000" stroke-width="5.4" stroke-linecap="round" stroke-linejoin="round"/>
<path d="M134.7,265.7 L132.9,266.7 L131.0,267.6" fill="none" stroke="#f00000" stroke-width="6.6" stroke-linecap="round" stroke-linejoin="round"/>
<path d="M162.0,261.1 L159.9,261.2 L157.9,261.4 L155.8,261.7 L153.7,262.3 L151.6,263.0 L149.5,263.8 L147.4,264.8 L145.4,266.0 L143.6,267.3 L142.0,268.7 L140.7,270.4 L139.5,272.1 L138.6,273.9 L137.7,275.8 L137.0,277.7 L136.2,279.6 L135.5,281.6 L134.8,283.6 L134.1,285.6 L133.4,287.6 L132.7,289.6 L132.1,291.6 L131.4,293.6 L130.8,295.7 L130.2,297.7 L129.5,299.8 L128.9,301.8 L128.3,303.9 L127.7,306.0 L127.1,308.0 L126.4,310.1 L125.8,312.2 L125.1,314.2 L124.5,316.3 L123.8,318.3 L123.2,320.4 L122.5,322.5 L121.9,324.5 L121.2,326.6 L120.5,328.6 L119.9,330.7 L119.2,332.7 L118.5,334.8 L117.9,336.8 L117.2,338.9 L116.6,341.0 L115.9,343.0 L115.3,345.1 L114.6,347.1 L114.0,349.2 L113.4,351.2 L112.8,353.3 L112.2,355.3 L111.6,357.4 L111.1,359.5 L110.5,361.5 L110.0,363.6 L109.5,365.7 L108.9,367.7 L108.5,369.8 L108.0,371.9 L107.5,373.9 L107.1,376.0 L106.6,378.1 L106.2,380.2 L105.8,382.2 L105.4,384.3 L105.0,386.4 L104.7,388.5 L104.3,390.6 L104.0,392.7 L103.6,394.8 L103.3,396.9 L102.9,399.0 L102.6,401.1 L102.3,403.2 L102.0,405.4 L101.7,407.5 L101.4,409.6 L101.1,411.7 L100.8,413.9 L100.5,416.0 L100.2,418.2 L99.9,420.3 L99.6,422.5 L99.3,424.6 L99.1,426.8 L98.8,429.0 L98.5,431.1" fill="none" stroke="#00d400" stroke-width="4.4" stroke-linecap="round" stroke-linejoin="round"/>
<path d="M162.0,261.1 L159.9,261.2 L157.9,261.4 L155.8,261.7 L153.7,262.3 L151.6,263.0 L149.5,263.8 L147.4,264.8 L145.4,266.0 L143.6,267.3 L142.0,268.7 L140.7,270.4 L139.5,272.1 L138.6,273.9 L137.7,275.8 L137.0,277.7 L136.2,279.6 L135.5,281.6 L134.8,283.6 L134.1,285.6 L133.4,287.6 L132.7,289.6 L132.1,291.6 L131.4,293.6 L130.8,295.7 L130.2,297.7 L129.5,299.8 L128.9,301.8 L128.3,303.9 L127.7,306.0 L127.1,308.0 L126.4,310.1 L125.8,312.2 L125.1,314.2 L124.5,316.3 L123.8,318.3 L123.2,320.4 L122.5,322.5 L121.9,324.5 L121.2,326.6 L120.5,328.6 L119.9,330.7 L119.2,332.7 L118.5,334.8 L117.9,336.8 L117.2,338.9 L116.6,341.0 L115.9,343.0 L115.3,345.1 L114.6,347.1 L114.0,349.2 L113.4,351.2 L112.8,353.3 L112.2,355.3 L111.6,357.4 L111.1,359.5 L110.5,361.5 L110.0,363.6 L109.5,365.7 L108.9,367.7 L108.5,369.8 L108.0,371.9 L107.5,373.9 L107.1,376.0 L106.6,378.1 L106.2,380.2 L105.8,382.2 L105.4,384.3 L105.0,386.4 L104.7,388.5 L104.3,390.6 L104.0,392.7 L103.6,394.8 L103.3,396.9 L102.9,399.0 L102.6,401.1 L102.3,403.2 L102.0,405.4 L101.7,407.5 L101.4,409.6 L101.1,411.7 L100.8,413.9 L100.5,416.0 L100.2,418.2 L99.9,420.3 L99.6,422.5 L99.3,424.6 L99.1,426.8 L98.8,429.0 L98.5,431.1" transform="translate(-0.9,-0.5)" fill="none" stroke="#8aff8a" stroke-width="1.2" stroke-linecap="round" opacity="0.9"/>
<path d="M162.0,261.1 L159.9,261.2 L157.9,261.4 L155.8,261.7 L153.7,262.3 L151.6,263.0 L149.5,263.8 L147.4,264.8" fill="none" stroke="#00d400" stroke-width="5.4" stroke-linecap="round" stroke-linejoin="round"/>
<path d="M162.0,261.1 L159.9,261.2 L157.9,261.4" fill="none" stroke="#00d400" stroke-width="6.6" stroke-linecap="round" stroke-linejoin="round"/>
<path d="M190.6,268.2 L188.7,268.9 L186.7,269.6 L184.8,270.4 L182.8,271.3 L180.9,272.3 L179.1,273.4 L177.3,274.5 L175.5,275.8 L173.8,277.1 L172.2,278.5 L170.7,280.0 L169.3,281.5 L167.9,283.1 L166.7,284.8 L165.5,286.5 L164.5,288.2 L163.5,290.0 L162.6,291.9 L161.7,293.7 L160.9,295.6 L160.1,297.6 L159.4,299.5 L158.7,301.5 L158.1,303.5 L157.4,305.5 L156.8,307.5 L156.1,309.5 L155.5,311.5 L154.9,313.5 L154.2,315.5 L153.6,317.5 L153.0,319.5 L152.4,321.5 L151.8,323.5 L151.2,325.6 L150.6,327.6 L150.0,329.6 L149.4,331.6 L148.8,333.6 L148.2,335.7 L147.7,337.7 L147.1,339.7 L146.5,341.7 L146.0,343.8 L145.4,345.8 L144.9,347.8 L144.3,349.9 L143.8,351.9 L143.3,353.9 L142.7,356.0 L142.2,358.0 L141.7,360.1 L141.2,362.1 L140.7,364.2 L140.2,366.2 L139.7,368.2 L139.2,370.3 L138.8,372.3 L138.3,374.4 L137.8,376.4 L137.4,378.5 L136.9,380.6 L136.5,382.6 L136.1,384.7 L135.7,386.7 L135.2,388.8 L134.8,390.8 L134.4,392.9 L134.1,395.0 L133.7,397.0 L133.3,399.1 L132.9,401.2 L132.6,403.2 L132.2,405.3 L131.9,407.4 L131.6,409.4 L131.3,411.5 L130.9,413.6 L130.6,415.7 L130.3,417.7 L130.1,419.8 L129.8,421.9 L129.5,424.0 L129.3,426.0 L129.0,428.1 L128.8,430.2 L128.6,432.3 L128.4,434.4 L128.2,436.5" fill="none" stroke="#0000ec" stroke-width="4.4" stroke-linecap="round" stroke-linejoin="round"/>
<path d="M190.6,268.2 L188.7,268.9 L186.7,269.6 L184.8,270.4 L182.8,271.3 L180.9,272.3 L179.1,273.4 L177.3,274.5 L175.5,275.8 L173.8,277.1 L172.2,278.5 L170.7,280.0 L169.3,281.5 L167.9,283.1 L166.7,284.8 L165.5,286.5 L164.5,288.2 L163.5,290.0 L162.6,291.9 L161.7,293.7 L160.9,295.6 L160.1,297.6 L159.4,299.5 L158.7,301.5 L158.1,303.5 L157.4,305.5 L156.8,307.5 L156.1,309.5 L155.5,311.5 L154.9,313.5 L154.2,315.5 L153.6,317.5 L153.0,319.5 L152.4,321.5 L151.8,323.5 L151.2,325.6 L150.6,327.6 L150.0,329.6 L149.4,331.6 L148.8,333.6 L148.2,335.7 L147.7,337.7 L147.1,339.7 L146.5,341.7 L146.0,343.8 L145.4,345.8 L144.9,347.8 L144.3,349.9 L143.8,351.9 L143.3,353.9 L142.7,356.0 L142.2,358.0 L141.7,360.1 L141.2,362.1 L140.7,364.2 L140.2,366.2 L139.7,368.2 L139.2,370.3 L138.8,372.3 L138.3,374.4 L137.8,376.4 L137.4,378.5 L136.9,380.6 L136.5,382.6 L136.1,384.7 L135.7,386.7 L135.2,388.8 L134.8,390.8 L134.4,392.9 L134.1,395.0 L133.7,397.0 L133.3,399.1 L132.9,401.2 L132.6,403.2 L132.2,405.3 L131.9,407.4 L131.6,409.4 L131.3,411.5 L130.9,413.6 L130.6,415.7 L130.3,417.7 L130.1,419.8 L129.8,421.9 L129.5,424.0 L129.3,426.0 L129.0,428.1 L128.8,430.2 L128.6,432.3 L128.4,434.4 L128.2,436.5" transform="translate(-0.9,-0.5)" fill="none" stroke="#7a7aff" stroke-width="1.2" stroke-linecap="round" opacity="0.9"/>
<path d="M190.6,268.2 L188.7,268.9 L186.7,269.6 L184.8,270.4 L182.8,271.3 L180.9,272.3 L179.1,273.4 L177.3,274.5" fill="none" stroke="#0000ec" stroke-width="5.4" stroke-linecap="round" stroke-linejoin="round"/>
<path d="M190.6,268.2 L188.7,268.9 L186.7,269.6" fill="none" stroke="#0000ec" stroke-width="6.6" stroke-linecap="round" stroke-linejoin="round"/>
<path d="M218.3,295.5 L216.6,296.0 L214.8,296.5 L213.0,297.2 L211.2,297.9 L209.4,298.6 L207.7,299.5 L205.9,300.4 L204.2,301.4 L202.6,302.4 L201.0,303.5 L199.4,304.7 L197.9,306.0 L196.5,307.3 L195.2,308.6 L194.0,310.1 L192.9,311.6 L191.8,313.1 L190.9,314.7 L190.0,316.4 L189.2,318.0 L188.4,319.8 L187.7,321.5 L187.1,323.3 L186.4,325.1 L185.8,326.9 L185.2,328.7 L184.7,330.5 L184.1,332.4 L183.5,334.2 L183.0,336.0 L182.4,337.9 L181.9,339.7 L181.3,341.5 L180.8,343.4 L180.3,345.2 L179.8,347.0 L179.3,348.9 L178.8,350.7 L178.3,352.6 L177.8,354.4 L177.3,356.3 L176.8,358.1 L176.3,360.0 L175.9,361.8 L175.4,363.7 L174.9,365.5 L174.5,367.4 L174.0,369.3 L173.6,371.1 L173.1,373.0 L172.7,374.8 L172.2,376.7 L171.8,378.6 L171.3,380.4 L170.9,382.3 L170.5,384.2 L170.0,386.0 L169.6,387.9 L169.2,389.7 L168.8,391.6 L168.3,393.5 L167.9,395.3 L167.5,397.2 L167.0,399.1 L166.6,400.9 L166.2,402.8 L165.8,404.7 L165.3,406.5 L164.9,408.4 L164.5,410.3 L164.0,412.1 L163.6,414.0 L163.2,415.8 L162.7,417.7 L162.3,419.6 L161.9,421.4 L161.4,423.3 L161.0,425.1 L160.5,427.0 L160.1,428.8 L159.6,430.7 L159.1,432.5 L158.7,434.4 L158.2,436.2 L157.7,438.1 L157.3,439.9 L156.8,441.8 L156.3,443.6 L155.8,445.5" fill="none" stroke="#ec8a10" stroke-width="4.4" stroke-linecap="round" stroke-linejoin="round"/>
<path d="M218.3,295.5 L216.6,296.0 L214.8,296.5 L213.0,297.2 L211.2,297.9 L209.4,298.6 L207.7,299.5 L205.9,300.4 L204.2,301.4 L202.6,302.4 L201.0,303.5 L199.4,304.7 L197.9,306.0 L196.5,307.3 L195.2,308.6 L194.0,310.1 L192.9,311.6 L191.8,313.1 L190.9,314.7 L190.0,316.4 L189.2,318.0 L188.4,319.8 L187.7,321.5 L187.1,323.3 L186.4,325.1 L185.8,326.9 L185.2,328.7 L184.7,330.5 L184.1,332.4 L183.5,334.2 L183.0,336.0 L182.4,337.9 L181.9,339.7 L181.3,341.5 L180.8,343.4 L180.3,345.2 L179.8,347.0 L179.3,348.9 L178.8,350.7 L178.3,352.6 L177.8,354.4 L177.3,356.3 L176.8,358.1 L176.3,360.0 L175.9,361.8 L175.4,363.7 L174.9,365.5 L174.5,367.4 L174.0,369.3 L173.6,371.1 L173.1,373.0 L172.7,374.8 L172.2,376.7 L171.8,378.6 L171.3,380.4 L170.9,382.3 L170.5,384.2 L170.0,386.0 L169.6,387.9 L169.2,389.7 L168.8,391.6 L168.3,393.5 L167.9,395.3 L167.5,397.2 L167.0,399.1 L166.6,400.9 L166.2,402.8 L165.8,404.7 L165.3,406.5 L164.9,408.4 L164.5,410.3 L164.0,412.1 L163.6,414.0 L163.2,415.8 L162.7,417.7 L162.3,419.6 L161.9,421.4 L161.4,423.3 L161.0,425.1 L160.5,427.0 L160.1,428.8 L159.6,430.7 L159.1,432.5 L158.7,434.4 L158.2,436.2 L157.7,438.1 L157.3,439.9 L156.8,441.8 L156.3,443.6 L155.8,445.5" transform="translate(-0.9,-0.5)" fill="none" stroke="#ffcc80" stroke-width="1.2" stroke-linecap="round" opacity="0.9"/>
<path d="M218.3,295.5 L216.6,296.0 L214.8,296.5 L213.0,297.2 L211.2,297.9 L209.4,298.6 L207.7,299.5 L205.9,300.4 L204.2,301.4" fill="none" stroke="#ec8a10" stroke-width="5.4" stroke-linecap="round" stroke-linejoin="round"/>
<path d="M218.3,295.5 L216.6,296.0 L214.8,296.5 L213.0,297.2" fill="none" stroke="#ec8a10" stroke-width="6.6" stroke-linecap="round" stroke-linejoin="round"/>
<g font-family="'Liberation Serif', serif" font-weight="bold">
<text transform="translate(2.0,254.3) scale(1.1,1)" font-size="26.5" text-anchor="start" >(c)</text>
<text transform="translate(18.0,435.8) scale(1.08,1)" font-size="14" text-anchor="middle" >Mn0</text>
<text transform="translate(49.6,443.1) scale(1.08,1)" font-size="14" text-anchor="middle" >Mn1</text>
<text transform="translate(80.7,450.1) scale(1.08,1)" font-size="14" text-anchor="middle" >Mn2</text>
<text transform="translate(113.3,455.8) scale(1.08,1)" font-size="14" text-anchor="middle" >Mn3</text>
<text transform="translate(148.5,461.2) scale(1.08,1)" font-size="14" text-anchor="middle" >Mn4</text>
<text transform="translate(236.9,296.6) scale(1.0,1)" font-size="12.5" text-anchor="start" >10<tspan font-size="8.0" dy="-5.2">4</tspan></text>
<text transform="translate(233.2,359.9) scale(1.0,1)" font-size="12.5" text-anchor="start" >10<tspan font-size="8.0" dy="-5.2">3</tspan></text>
<text transform="translate(232.4,403.0) scale(1.0,1)" font-size="12" text-anchor="start" >10<tspan font-size="7.7" dy="-5.0">3</tspan></text>
<text transform="translate(221.9,413.9) scale(1.0,1)" font-size="12" text-anchor="start" >10<tspan font-size="7.7" dy="-5.0">4</tspan></text>
<text transform="translate(209.8,425.6) scale(1.0,1)" font-size="12.5" text-anchor="start" >10<tspan font-size="8.0" dy="-5.2">5</tspan></text>
<text transform="translate(196.4,438.4) scale(1.0,1)" font-size="13" text-anchor="start" >10<tspan font-size="8.3" dy="-5.5">6</tspan></text>
<text transform="translate(181.5,452.1) scale(1.0,1)" font-size="13.5" text-anchor="start" >10<tspan font-size="8.6" dy="-5.7">7</tspan></text>
<text transform="translate(219.2,438.0) scale(1.0,1)" font-size="15" text-anchor="start" ><tspan font-style="italic">f</tspan><tspan dx="2"> (Hz)</tspan></text>
<text transform="translate(261.5,335.0) rotate(-90) scale(1.0,1)" font-size="15" text-anchor="start" ><tspan font-style="italic">μ</tspan></text>
</g>
<line x1="294.1" y1="422.2" x2="292.0" y2="266.2" stroke="#e8e8e8" stroke-width="0.8" />
<line x1="294.1" y1="422.2" x2="459.8" y2="432.9" stroke="#e8e8e8" stroke-width="0.8" />
<line x1="304.7" y1="410.1" x2="303.1" y2="261.9" stroke="#e8e8e8" stroke-width="0.8" />
<line x1="304.7" y1="410.1" x2="462.0" y2="419.8" stroke="#e8e8e8" stroke-width="0.8" />
<line x1="314.2" y1="399.2" x2="313.1" y2="258.0" stroke="#e8e8e8" stroke-width="0.8" />
<line x1="314.2" y1="399.2" x2="463.9" y2="408.0" stroke="#e8e8e8" stroke-width="0.8" />
<line x1="278.9" y1="422.8" x2="320.3" y2="378.2" stroke="#e8e8e8" stroke-width="0.8" />
<line x1="320.3" y1="378.2" x2="465.7" y2="386.1" stroke="#e8e8e8" stroke-width="0.8" />
<line x1="278.2" y1="386.5" x2="320.2" y2="348.4" stroke="#e8e8e8" stroke-width="0.8" />
<line x1="320.2" y1="348.4" x2="467.0" y2="355.3" stroke="#e8e8e8" stroke-width="0.8" />
<line x1="277.5" y1="349.3" x2="320.0" y2="318.0" stroke="#e8e8e8" stroke-width="0.8" />
<line x1="320.0" y1="318.0" x2="468.3" y2="323.8" stroke="#e8e8e8" stroke-width="0.8" />
<line x1="276.8" y1="311.3" x2="319.8" y2="286.9" stroke="#e8e8e8" stroke-width="0.8" />
<line x1="319.8" y1="286.9" x2="469.6" y2="291.8" stroke="#e8e8e8" stroke-width="0.8" />
<line x1="276.0" y1="272.3" x2="319.7" y2="255.3" stroke="#e8e8e8" stroke-width="0.8" />
<line x1="319.7" y1="255.3" x2="470.9" y2="259.1" stroke="#e8e8e8" stroke-width="0.8" />
<line x1="334.4" y1="392.8" x2="334.3" y2="255.8" stroke="#e8e8e8" stroke-width="0.8" />
<line x1="296.3" y1="440.7" x2="334.4" y2="392.8" stroke="#e8e8e8" stroke-width="0.8" />
<line x1="362.8" y1="394.5" x2="363.9" y2="256.6" stroke="#e8e8e8" stroke-width="0.8" />
<line x1="330.9" y1="443.1" x2="362.8" y2="394.5" stroke="#e8e8e8" stroke-width="0.8" />
<line x1="391.5" y1="396.1" x2="394.0" y2="257.3" stroke="#e8e8e8" stroke-width="0.8" />
<line x1="366.1" y1="445.5" x2="391.5" y2="396.1" stroke="#e8e8e8" stroke-width="0.8" />
<line x1="420.7" y1="397.8" x2="424.4" y2="258.1" stroke="#e8e8e8" stroke-width="0.8" />
<line x1="402.0" y1="447.9" x2="420.7" y2="397.8" stroke="#e8e8e8" stroke-width="0.8" />
<line x1="450.2" y1="399.4" x2="455.3" y2="258.8" stroke="#e8e8e8" stroke-width="0.8" />
<line x1="438.4" y1="450.5" x2="450.2" y2="399.4" stroke="#e8e8e8" stroke-width="0.8" />
<line x1="320.4" y1="392.0" x2="319.7" y2="255.5" stroke="#b0b0b0" stroke-width="1" stroke-dasharray="2 1"/>
<line x1="320.4" y1="392.0" x2="465.1" y2="400.3" stroke="#b0b0b0" stroke-width="1" stroke-dasharray="2 1"/>
<line x1="279.2" y1="439.5" x2="320.4" y2="392.0" stroke="#b0b0b0" stroke-width="0.8" />
<polyline points="279.2,439.5 276.0,272.5 319.7,255.5 470.9,259.2 465.1,400.3 456.8,451.7 279.2,439.5" fill="none" stroke="#000" stroke-width="1.85" stroke-linejoin="miter"/>
<line x1="465.7" y1="386.1" x2="462.0" y2="385.9" stroke="#000" stroke-width="1.1" />
<line x1="466.3" y1="370.7" x2="464.2" y2="370.6" stroke="#000" stroke-width="1.1" />
<line x1="467.0" y1="355.3" x2="463.2" y2="355.1" stroke="#000" stroke-width="1.1" />
<line x1="467.6" y1="339.6" x2="465.5" y2="339.5" stroke="#000" stroke-width="1.1" />
<line x1="468.3" y1="323.8" x2="464.4" y2="323.7" stroke="#000" stroke-width="1.1" />
<line x1="468.9" y1="307.9" x2="466.8" y2="307.8" stroke="#000" stroke-width="1.1" />
<line x1="469.6" y1="291.8" x2="465.7" y2="291.7" stroke="#000" stroke-width="1.1" />
<line x1="470.3" y1="275.5" x2="468.1" y2="275.5" stroke="#000" stroke-width="1.1" />
<line x1="470.9" y1="259.1" x2="467.0" y2="259.0" stroke="#000" stroke-width="1.1" />
<line x1="457.5" y1="447.6" x2="452.9" y2="447.3" stroke="#000" stroke-width="1.4" />
<line x1="459.8" y1="432.9" x2="455.5" y2="432.7" stroke="#000" stroke-width="1.4" />
<line x1="462.0" y1="419.8" x2="457.9" y2="419.6" stroke="#000" stroke-width="1.4" />
<line x1="463.9" y1="408.0" x2="460.0" y2="407.8" stroke="#000" stroke-width="1.4" />
<line x1="296.3" y1="440.7" x2="298.1" y2="438.3" stroke="#000" stroke-width="1.4" />
<line x1="330.9" y1="443.1" x2="332.5" y2="440.7" stroke="#000" stroke-width="1.4" />
<line x1="366.1" y1="445.5" x2="367.4" y2="443.1" stroke="#000" stroke-width="1.4" />
<line x1="402.0" y1="447.9" x2="402.9" y2="445.5" stroke="#000" stroke-width="1.4" />
<line x1="438.4" y1="450.5" x2="438.9" y2="448.0" stroke="#000" stroke-width="1.4" />
<line x1="299.9" y1="387.2" x2="300.5" y2="435.4" stroke="#505050" stroke-width="0.6" stroke-dasharray="1 1.2" opacity="0.55"/>
<line x1="303.4" y1="382.3" x2="304.0" y2="431.0" stroke="#505050" stroke-width="0.6" stroke-dasharray="1 1.2" opacity="0.55"/>
<line x1="307.0" y1="377.4" x2="307.4" y2="426.7" stroke="#505050" stroke-width="0.6" stroke-dasharray="1 1.2" opacity="0.55"/>
<line x1="310.5" y1="372.6" x2="310.9" y2="422.3" stroke="#505050" stroke-width="0.6" stroke-dasharray="1 1.2" opacity="0.55"/>
<line x1="314.0" y1="367.7" x2="314.4" y2="418.0" stroke="#505050" stroke-width="0.6" stroke-dasharray="1 1.2" opacity="0.55"/>
<line x1="317.6" y1="362.8" x2="317.9" y2="413.6" stroke="#505050" stroke-width="0.6" stroke-dasharray="1 1.2" opacity="0.55"/>
<line x1="321.1" y1="357.9" x2="321.4" y2="409.2" stroke="#505050" stroke-width="0.6" stroke-dasharray="1 1.2" opacity="0.55"/>
<line x1="324.6" y1="353.1" x2="324.8" y2="404.9" stroke="#505050" stroke-width="0.6" stroke-dasharray="1 1.2" opacity="0.55"/>
<line x1="328.2" y1="348.2" x2="328.3" y2="400.5" stroke="#505050" stroke-width="0.6" stroke-dasharray="1 1.2" opacity="0.55"/>
<line x1="331.7" y1="343.3" x2="331.8" y2="396.1" stroke="#505050" stroke-width="0.6" stroke-dasharray="1 1.2" opacity="0.55"/>
<circle cx="331.7" cy="343.3" r="5.72" fill="url(#gk)"/>
<circle cx="328.2" cy="348.2" r="5.83" fill="url(#gk)"/>
<circle cx="324.6" cy="353.1" r="5.94" fill="url(#gk)"/>
<circle cx="321.1" cy="357.9" r="6.05" fill="url(#gk)"/>
<circle cx="317.6" cy="362.8" r="6.16" fill="url(#gk)"/>
<circle cx="314.0" cy="367.7" r="6.26" fill="url(#gk)"/>
<circle cx="310.5" cy="372.6" r="6.37" fill="url(#gk)"/>
<circle cx="307.0" cy="377.4" r="6.48" fill="url(#gk)"/>
<circle cx="303.4" cy="382.3" r="6.59" fill="url(#gk)"/>
<circle cx="299.9" cy="387.2" r="6.70" fill="url(#gk)"/>
<line x1="334.1" y1="361.0" x2="334.2" y2="438.1" stroke="#ff6060" stroke-width="0.6" stroke-dasharray="1 1.2" opacity="0.55"/>
<line x1="336.6" y1="358.2" x2="336.6" y2="434.4" stroke="#ff6060" stroke-width="0.6" stroke-dasharray="1 1.2" opacity="0.55"/>
<line x1="339.1" y1="355.4" x2="339.1" y2="430.6" stroke="#ff6060" stroke-width="0.6" stroke-dasharray="1 1.2" opacity="0.55"/>
<line x1="341.7" y1="352.6" x2="341.5" y2="426.9" stroke="#ff6060" stroke-width="0.6" stroke-dasharray="1 1.2" opacity="0.55"/>
<line x1="344.2" y1="349.8" x2="344.0" y2="423.1" stroke="#ff6060" stroke-width="0.6" stroke-dasharray="1 1.2" opacity="0.55"/>
<line x1="346.7" y1="347.0" x2="346.5" y2="419.4" stroke="#ff6060" stroke-width="0.6" stroke-dasharray="1 1.2" opacity="0.55"/>
<line x1="349.2" y1="344.1" x2="348.9" y2="415.6" stroke="#ff6060" stroke-width="0.6" stroke-dasharray="1 1.2" opacity="0.55"/>
<line x1="351.7" y1="341.3" x2="351.4" y2="411.8" stroke="#ff6060" stroke-width="0.6" stroke-dasharray="1 1.2" opacity="0.55"/>
<line x1="354.2" y1="338.5" x2="353.9" y2="408.1" stroke="#ff6060" stroke-width="0.6" stroke-dasharray="1 1.2" opacity="0.55"/>
<line x1="356.8" y1="335.7" x2="356.3" y2="404.3" stroke="#ff6060" stroke-width="0.6" stroke-dasharray="1 1.2" opacity="0.55"/>
<line x1="359.3" y1="332.9" x2="358.8" y2="400.5" stroke="#ff6060" stroke-width="0.6" stroke-dasharray="1 1.2" opacity="0.55"/>
<line x1="361.8" y1="330.1" x2="361.3" y2="396.8" stroke="#ff6060" stroke-width="0.6" stroke-dasharray="1 1.2" opacity="0.55"/>
<circle cx="361.8" cy="330.1" r="5.18" fill="url(#gr)"/>
<circle cx="359.3" cy="332.9" r="5.26" fill="url(#gr)"/>
<circle cx="356.8" cy="335.7" r="5.34" fill="url(#gr)"/>
<circle cx="354.2" cy="338.5" r="5.42" fill="url(#gr)"/>
<circle cx="351.7" cy="341.3" r="5.50" fill="url(#gr)"/>
<circle cx="349.2" cy="344.1" r="5.58" fill="url(#gr)"/>
<circle cx="346.7" cy="347.0" r="5.66" fill="url(#gr)"/>
<circle cx="344.2" cy="349.8" r="5.73" fill="url(#gr)"/>
<circle cx="341.7" cy="352.6" r="5.81" fill="url(#gr)"/>
<circle cx="339.1" cy="355.4" r="5.89" fill="url(#gr)"/>
<circle cx="336.6" cy="358.2" r="5.97" fill="url(#gr)"/>
<circle cx="334.1" cy="361.0" r="6.05" fill="url(#gr)"/>
<line x1="369.8" y1="289.0" x2="368.3" y2="441.4" stroke="#40e040" stroke-width="0.6" stroke-dasharray="1 1.2" opacity="0.55"/>
<line x1="371.9" y1="287.1" x2="370.3" y2="437.4" stroke="#40e040" stroke-width="0.6" stroke-dasharray="1 1.2" opacity="0.55"/>
<line x1="374.0" y1="285.3" x2="372.3" y2="433.5" stroke="#40e040" stroke-width="0.6" stroke-dasharray="1 1.2" opacity="0.55"/>
<line x1="376.1" y1="283.4" x2="374.4" y2="429.5" stroke="#40e040" stroke-width="0.6" stroke-dasharray="1 1.2" opacity="0.55"/>
<line x1="378.2" y1="281.5" x2="376.4" y2="425.5" stroke="#40e040" stroke-width="0.6" stroke-dasharray="1 1.2" opacity="0.55"/>
<line x1="380.3" y1="279.7" x2="378.5" y2="421.6" stroke="#40e040" stroke-width="0.6" stroke-dasharray="1 1.2" opacity="0.55"/>
<line x1="382.5" y1="277.8" x2="380.5" y2="417.6" stroke="#40e040" stroke-width="0.6" stroke-dasharray="1 1.2" opacity="0.55"/>
<line x1="384.6" y1="276.0" x2="382.6" y2="413.6" stroke="#40e040" stroke-width="0.6" stroke-dasharray="1 1.2" opacity="0.55"/>
<line x1="386.7" y1="274.1" x2="384.6" y2="409.6" stroke="#40e040" stroke-width="0.6" stroke-dasharray="1 1.2" opacity="0.55"/>
<line x1="388.8" y1="272.2" x2="386.7" y2="405.6" stroke="#40e040" stroke-width="0.6" stroke-dasharray="1 1.2" opacity="0.55"/>
<line x1="390.9" y1="270.4" x2="388.7" y2="401.6" stroke="#40e040" stroke-width="0.6" stroke-dasharray="1 1.2" opacity="0.55"/>
<line x1="393.0" y1="268.5" x2="390.8" y2="397.6" stroke="#40e040" stroke-width="0.6" stroke-dasharray="1 1.2" opacity="0.55"/>
<circle cx="393.0" cy="268.5" r="5.08" fill="url(#gg)"/>
<circle cx="390.9" cy="270.4" r="5.18" fill="url(#gg)"/>
<circle cx="388.8" cy="272.2" r="5.29" fill="url(#gg)"/>
<circle cx="386.7" cy="274.1" r="5.40" fill="url(#gg)"/>
<circle cx="384.6" cy="276.0" r="5.51" fill="url(#gg)"/>
<circle cx="382.5" cy="277.8" r="5.62" fill="url(#gg)"/>
<circle cx="380.3" cy="279.7" r="5.72" fill="url(#gg)"/>
<circle cx="378.2" cy="281.5" r="5.83" fill="url(#gg)"/>
<circle cx="376.1" cy="283.4" r="5.94" fill="url(#gg)"/>
<circle cx="374.0" cy="285.3" r="6.05" fill="url(#gg)"/>
<circle cx="371.9" cy="287.1" r="6.16" fill="url(#gg)"/>
<circle cx="369.8" cy="289.0" r="6.26" fill="url(#gg)"/>
<line x1="407.0" y1="320.0" x2="404.3" y2="441.5" stroke="#6060ff" stroke-width="0.6" stroke-dasharray="1 1.2" opacity="0.55"/>
<line x1="409.5" y1="316.5" x2="406.8" y2="434.9" stroke="#6060ff" stroke-width="0.6" stroke-dasharray="1 1.2" opacity="0.55"/>
<line x1="411.3" y1="309.5" x2="408.5" y2="430.4" stroke="#6060ff" stroke-width="0.6" stroke-dasharray="1 1.2" opacity="0.55"/>
<line x1="412.3" y1="304.5" x2="409.4" y2="428.0" stroke="#6060ff" stroke-width="0.6" stroke-dasharray="1 1.2" opacity="0.55"/>
<line x1="413.8" y1="298.0" x2="410.8" y2="424.3" stroke="#6060ff" stroke-width="0.6" stroke-dasharray="1 1.2" opacity="0.55"/>
<line x1="415.3" y1="292.4" x2="412.2" y2="420.5" stroke="#6060ff" stroke-width="0.6" stroke-dasharray="1 1.2" opacity="0.55"/>
<line x1="416.7" y1="287.4" x2="413.5" y2="417.0" stroke="#6060ff" stroke-width="0.6" stroke-dasharray="1 1.2" opacity="0.55"/>
<line x1="418.2" y1="283.0" x2="414.9" y2="413.2" stroke="#6060ff" stroke-width="0.6" stroke-dasharray="1 1.2" opacity="0.55"/>
<line x1="419.6" y1="278.7" x2="416.3" y2="409.6" stroke="#6060ff" stroke-width="0.6" stroke-dasharray="1 1.2" opacity="0.55"/>
<line x1="421.0" y1="275.0" x2="417.6" y2="406.0" stroke="#6060ff" stroke-width="0.6" stroke-dasharray="1 1.2" opacity="0.55"/>
<line x1="422.5" y1="272.0" x2="419.1" y2="402.1" stroke="#6060ff" stroke-width="0.6" stroke-dasharray="1 1.2" opacity="0.55"/>
<circle cx="422.5" cy="272.0" r="5.08" fill="url(#gb)"/>
<circle cx="421.0" cy="275.0" r="5.18" fill="url(#gb)"/>
<circle cx="419.6" cy="278.7" r="5.29" fill="url(#gb)"/>
<circle cx="418.2" cy="283.0" r="5.40" fill="url(#gb)"/>
<circle cx="416.7" cy="287.4" r="5.51" fill="url(#gb)"/>
<circle cx="415.3" cy="292.4" r="5.62" fill="url(#gb)"/>
<circle cx="413.8" cy="298.0" r="5.72" fill="url(#gb)"/>
<circle cx="412.3" cy="304.5" r="5.94" fill="url(#gb)"/>
<circle cx="411.3" cy="309.5" r="6.16" fill="url(#gb)"/>
<circle cx="409.5" cy="316.5" r="6.48" fill="url(#gb)"/>
<circle cx="407.0" cy="320.0" r="6.80" fill="url(#gb)"/>
<line x1="440.0" y1="438.5" x2="439.8" y2="444.2" stroke="#ffa040" stroke-width="0.6" stroke-dasharray="1 1.2" opacity="0.55"/>
<line x1="441.3" y1="430.8" x2="441.0" y2="439.0" stroke="#ffa040" stroke-width="0.6" stroke-dasharray="1 1.2" opacity="0.55"/>
<line x1="442.2" y1="423.4" x2="441.8" y2="435.7" stroke="#ffa040" stroke-width="0.6" stroke-dasharray="1 1.2" opacity="0.55"/>
<line x1="443.0" y1="416.0" x2="442.4" y2="433.0" stroke="#ffa040" stroke-width="0.6" stroke-dasharray="1 1.2" opacity="0.55"/>
<line x1="444.3" y1="408.4" x2="443.6" y2="427.8" stroke="#ffa040" stroke-width="0.6" stroke-dasharray="1 1.2" opacity="0.55"/>
<line x1="445.2" y1="401.3" x2="444.4" y2="424.5" stroke="#ffa040" stroke-width="0.6" stroke-dasharray="1 1.2" opacity="0.55"/>
<line x1="446.2" y1="395.1" x2="445.3" y2="420.6" stroke="#ffa040" stroke-width="0.6" stroke-dasharray="1 1.2" opacity="0.55"/>
<line x1="447.1" y1="388.9" x2="446.1" y2="417.1" stroke="#ffa040" stroke-width="0.6" stroke-dasharray="1 1.2" opacity="0.55"/>
<line x1="448.0" y1="383.6" x2="446.9" y2="413.5" stroke="#ffa040" stroke-width="0.6" stroke-dasharray="1 1.2" opacity="0.55"/>
<line x1="448.9" y1="378.3" x2="447.8" y2="410.0" stroke="#ffa040" stroke-width="0.6" stroke-dasharray="1 1.2" opacity="0.55"/>
<line x1="450.1" y1="373.0" x2="449.0" y2="404.9" stroke="#ffa040" stroke-width="0.6" stroke-dasharray="1 1.2" opacity="0.55"/>
<circle cx="450.1" cy="373.0" r="4.97" fill="url(#go)"/>
<circle cx="448.9" cy="378.3" r="5.09" fill="url(#go)"/>
<circle cx="448.0" cy="383.6" r="5.21" fill="url(#go)"/>
<circle cx="447.1" cy="388.9" r="5.32" fill="url(#go)"/>
<circle cx="446.2" cy="395.1" r="5.44" fill="url(#go)"/>
<circle cx="445.2" cy="401.3" r="5.56" fill="url(#go)"/>
<circle cx="444.3" cy="408.4" r="5.68" fill="url(#go)"/>
<circle cx="443.0" cy="416.0" r="5.80" fill="url(#go)"/>
<circle cx="442.2" cy="423.4" r="5.92" fill="url(#go)"/>
<circle cx="441.3" cy="430.8" r="6.04" fill="url(#go)"/>
<circle cx="440.0" cy="438.5" r="6.16" fill="url(#go)"/>
<g font-family="'Liberation Serif', serif" font-weight="bold">
<text transform="translate(264.5,260.0) scale(1.1,1)" font-size="26.5" text-anchor="start" >(d)</text>
<text transform="translate(287.0,456.4) scale(1.08,1)" font-size="14" text-anchor="middle" >Mn0</text>
<text transform="translate(322.4,458.8) scale(1.08,1)" font-size="14" text-anchor="middle" >Mn1</text>
<text transform="translate(358.2,460.2) scale(1.08,1)" font-size="14" text-anchor="middle" >Mn2</text>
<text transform="translate(395.3,462.8) scale(1.08,1)" font-size="14" text-anchor="middle" >Mn3</text>
<text transform="translate(431.9,465.8) scale(1.08,1)" font-size="14" text-anchor="middle" >Mn4</text>
<text transform="translate(473.6,264.6) scale(1.0,1)" font-size="12.5" text-anchor="start" >16,000</text>
<text transform="translate(472.4,296.6) scale(1.0,1)" font-size="12.5" text-anchor="start" >14,000</text>
<text transform="translate(470.8,327.8) scale(1.0,1)" font-size="12.5" text-anchor="start" >12,000</text>
<text transform="translate(469.6,358.9) scale(1.0,1)" font-size="12.5" text-anchor="start" >10,000</text>
<text transform="translate(468.7,391.6) scale(1.0,1)" font-size="12.5" text-anchor="start" >8,000</text>
<text transform="translate(466.9,412.8) scale(1.0,1)" font-size="12.5" text-anchor="start" >45</text>
<text transform="translate(465.8,424.9) scale(1.0,1)" font-size="12.5" text-anchor="start" >30</text>
<text transform="translate(464.4,438.2) scale(1.0,1)" font-size="12.8" text-anchor="start" >15</text>
<text transform="translate(461.4,453.1) scale(1.0,1)" font-size="13" text-anchor="start" >0</text>
<text transform="translate(483.6,423.3) scale(1.03,1)" font-size="15" text-anchor="start" ><tspan font-style="italic">H</tspan><tspan font-size="10" dy="3">m</tspan><tspan dy="-3" dx="1.2"> (A/m)</tspan></text>
<text transform="translate(526.2,357.6) rotate(-90) scale(1.0,1)" font-size="11" text-anchor="start" ><tspan font-style="italic" font-size="14">μ</tspan><tspan font-size="10.6">(@100 kHz)</tspan></text>
</g>
</svg></body></html>
